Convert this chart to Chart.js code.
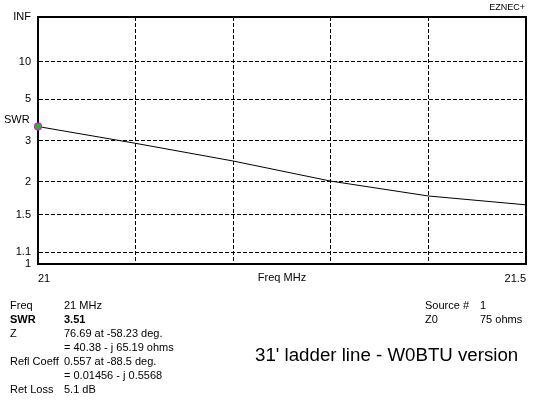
<!DOCTYPE html>
<html>
<head>
<meta charset="utf-8">
<script src="https://cdn.jsdelivr.net/npm/chart.js@4.4.1/dist/chart.umd.min.js"></script>
<style>
  html, body { margin: 0; padding: 0; background: #fff; }
  body { width: 556px; height: 404px; position: relative; overflow: hidden;
         font-family: "Liberation Sans", Arial, sans-serif; color: #000; }
  #wrap { position: absolute; left: 0; top: 0; width: 556px; height: 290px; }
  .t { position: absolute; font-size: 11px; line-height: 14px; white-space: nowrap; }
  .b { font-weight: bold; }
</style>
</head>
<body>
<div id="wrap"><canvas id="c" width="556" height="290"></canvas></div>

<div class="t" style="left:4px; top:112px;">SWR</div>
<div class="t" style="right:31px; top:1.5px; font-size:9px; line-height:10px;">EZNEC+</div>
<div class="t" style="left:182px; width:200px; text-align:center; top:270px;">Freq MHz</div>

<div id="info"></div>
<div class="t" style="left:255px; top:344px; font-size:18.7px; line-height:22px;">31' ladder line - W0BTU version</div>

<script>
// ---- data ----
const FREQS = [21.0, 21.1, 21.2, 21.3, 21.4, 21.5];          // MHz
const SWR   = [3.51, 2.91, 2.43, 2.01, 1.76, 1.63];
const X_TICKS = [21.0, 21.1, 21.2, 21.3, 21.4, 21.5];
const X_TICK_LABELS = ['21', '', '', '', '', '21.5'];
const SWR_TICKS = [1, 1.1, 1.5, 2, 3, 5, 10, Infinity];
const SWR_TICK_LABELS = ['1', '1.1', '1.5', '2', '3', '5', '10', 'INF'];

const INFO_LABELS = ['Freq', 'SWR', 'Z', '', 'Refl Coeff', '', 'Ret Loss'];
const INFO_VALUES = ['21 MHz', '3.51', '76.69 at -58.23 deg.', '= 40.38 - j 65.19 ohms',
                     '0.557 at -88.5 deg.', '= 0.01456 - j 0.5568', '5.1 dB'];
const SRC_LABELS = ['Source #', 'Z0'];
const SRC_VALUES = ['1', '75 ohms'];

// SWR axis is linear in reflection coefficient
function rho(s) { return s === Infinity ? 1 : (s - 1) / (s + 1); }

// info panel text
(function () {
  const info = document.getElementById('info');
  let html = '';
  INFO_LABELS.forEach((l, i) => {
    const top = 297.5 + 14 * i;
    const cls = i === 1 ? 't b' : 't';
    html += `<div class="${cls}" style="left:10px; top:${top}px;">${l}</div>`;
    html += `<div class="${cls}" style="left:64px; top:${top}px;">${INFO_VALUES[i]}</div>`;
  });
  SRC_LABELS.forEach((l, i) => {
    const top = 297.5 + 14 * i;
    html += `<div class="t" style="left:425px; top:${top}px;">${l}</div>`;
    html += `<div class="t" style="left:480px; top:${top}px;">${SRC_VALUES[i]}</div>`;
  });
  info.innerHTML = html;
})();

const points = FREQS.map((f, i) => ({ x: f, y: rho(SWR[i]) }));
const DASH = [4, 2];

new Chart(document.getElementById('c'), {
  type: 'line',
  data: {
    datasets: [{
      data: points,
      borderColor: '#000',
      borderWidth: 1,
      tension: 0,
      clip: false,
      pointRadius: ctx => ctx.dataIndex === 0 ? 3.5 : 0,
      pointBackgroundColor: '#00d000',
      pointBorderColor: '#ff00ff',
      pointBorderWidth: 1.2
    }]
  },
  options: {
    responsive: false,
    animation: false,
    devicePixelRatio: 1,
    layout: { padding: { left: 0, top: 17, right: 30, bottom: 0 } },
    plugins: { legend: { display: false }, tooltip: { enabled: false } },
    scales: {
      x: {
        type: 'linear',
        position: 'bottom',
        min: X_TICKS[0],
        max: X_TICKS[X_TICKS.length - 1],
        afterBuildTicks: s => { s.ticks = X_TICKS.map(v => ({ value: v })); },
        afterFit: s => { s.height = 26; },
        ticks: {
          autoSkip: false,
          maxRotation: 0,
          align: 'inner',
          padding: 8,
          color: '#000',
          font: { family: 'Liberation Sans', size: 11 },
          callback: (v, i) => X_TICK_LABELS[i]
        },
        grid: {
          drawTicks: false,
          lineWidth: 1,
          color: ctx => (ctx.index === 0 || ctx.index === X_TICKS.length - 1) ? 'rgba(0,0,0,0)' : '#000'
        },
        border: { display: true, color: '#000', width: 2, dash: DASH }
      },
      x2: {
        type: 'linear', position: 'top',
        min: X_TICKS[0], max: X_TICKS[X_TICKS.length - 1],
        afterFit: s => { s.height = 0; },
        ticks: { display: false }, grid: { display: false, drawTicks: false },
        border: { display: true, color: '#000', width: 2 }
      },
      y: {
        type: 'linear',
        position: 'left',
        min: 0,
        max: 1,
        afterBuildTicks: s => { s.ticks = SWR_TICKS.map(v => ({ value: rho(v) })); },
        afterFit: s => { s.width = 38; },
        ticks: {
          autoSkip: false,
          padding: 7,
          color: '#000',
          font: { family: 'Liberation Sans', size: 11 },
          callback: (v, i) => SWR_TICK_LABELS[i]
        },
        grid: {
          drawTicks: false,
          lineWidth: 1,
          color: ctx => (ctx.index === 0 || ctx.index === SWR_TICKS.length - 1) ? 'rgba(0,0,0,0)' : '#000'
        },
        border: { display: true, color: '#000', width: 2, dash: DASH }
      },
      y2: {
        type: 'linear', position: 'right', min: 0, max: 1,
        afterFit: s => { s.width = 0; },
        ticks: { display: false }, grid: { display: false, drawTicks: false },
        border: { display: true, color: '#000', width: 2 }
      }
    }
  }
});
</script>
</body>
</html>
